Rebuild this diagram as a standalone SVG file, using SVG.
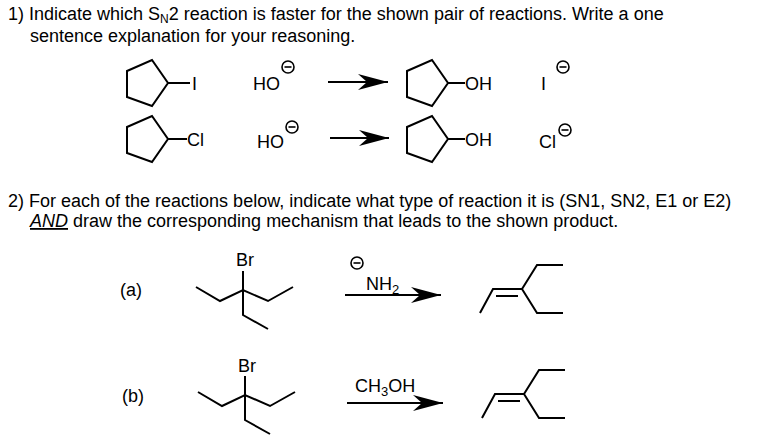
<svg xmlns="http://www.w3.org/2000/svg" width="757" height="441" viewBox="0 0 757 441">
<style>
text{font-family:"Liberation Sans",Arial,sans-serif;fill:#000}
.t{font-size:18px}.c{font-size:18px}
.b{fill:none;stroke:#000;stroke-width:2;stroke-linejoin:miter}
.m{fill:none;stroke:#000;stroke-width:1.6}
</style>
<defs>
<marker id="ah" markerWidth="32" markerHeight="16" refX="30" refY="8" orient="auto" markerUnits="userSpaceOnUse"><path d="M0,0 L30,8 L0,16 L9,8 Z"/></marker>
<g id="neg"><circle r="6" class="m"/><line x1="-3.5" y1="0" x2="3.5" y2="0" class="m"/></g>
<path id="cp" d="M127,71 L152,60 L168,83 L152,106 L127,97 Z"/>
<path id="al" d="M196,287 L220,301 L243,290 L268,301 L293,287 M243,290 L243,315 L268,329 M243,290 L243,271"/>
<path id="pr" d="M480,313 L493,289 L522,289 L537,265 L563,265 M522,289 L537,313 L563,313 M496,296 L518,296"/>
</defs>
<text class="t" x="8" y="20">1) Indicate which S<tspan font-size="12" dy="3">N</tspan><tspan dy="-3">2 reaction is faster for the shown pair of reactions.  Write a one</tspan></text>
<text class="t" x="30" y="42">sentence explanation for your reasoning.</text>
<g id="r1">
<use href="#cp" class="b"/><line x1="168" y1="83" x2="190" y2="83" class="b"/><text class="c" x="192" y="90">I</text>
<text class="c" x="253" y="90">HO</text><use href="#neg" x="288" y="67"/>
<use href="#cp" x="280" class="b"/><line x1="448" y1="83" x2="465" y2="83" class="b"/><text class="c" x="465" y="90">OH</text>
<text class="c" x="541" y="90">I</text><use href="#neg" x="563" y="67"/>
</g>
<g id="r2">
<use href="#cp" y="56" class="b"/><line x1="168" y1="139" x2="187" y2="139" class="b"/><text class="c" x="187" y="146">Cl</text>
<text class="c" x="257" y="148">HO</text><use href="#neg" x="292" y="127"/>
<use href="#cp" x="280" y="56" class="b"/><line x1="448" y1="139" x2="465" y2="139" class="b"/><text class="c" x="465" y="146">OH</text>
<text class="c" x="539" y="148">Cl</text><use href="#neg" x="565" y="130"/>
</g>
<text class="t" x="8" y="207">2) For each of the reactions below, indicate what type of reaction it is (SN1, SN2, E1 or E2)</text>
<text class="t" x="30" y="227"><tspan font-style="italic" text-decoration="underline">AND</tspan> draw the corresponding mechanism that leads to the shown product.</text>
<g id="ra">
<text class="c" x="120" y="296" font-size="17">(a)</text>
<use href="#al" class="b"/><text class="c" x="236" y="266">Br</text>
<use href="#neg" x="357" y="263"/><text class="c" x="366" y="290">NH<tspan font-size="13" dy="4">2</tspan></text>
<use href="#pr" class="b"/>
</g>
<g id="rb">
<text class="c" x="122" y="402" font-size="17">(b)</text>
<use href="#al" x="2" y="105" class="b"/><text class="c" x="238" y="372">Br</text>
<text class="c" x="355" y="392">CH<tspan font-size="13" dy="4">3</tspan><tspan dy="-4">OH</tspan></text>
<use href="#pr" x="2" y="105" class="b"/>
</g>
<g id="connectors">
<line x1="328" y1="82" x2="388" y2="82" stroke="#000" stroke-width="2" marker-end="url(#ah)"/>
<line x1="330" y1="138" x2="389" y2="138" stroke="#000" stroke-width="2" marker-end="url(#ah)"/>
<line x1="345" y1="295" x2="441" y2="295" stroke="#000" stroke-width="2" marker-end="url(#ah)"/>
<line x1="347" y1="403" x2="443" y2="403" stroke="#000" stroke-width="2" marker-end="url(#ah)"/>
</g>
</svg>
